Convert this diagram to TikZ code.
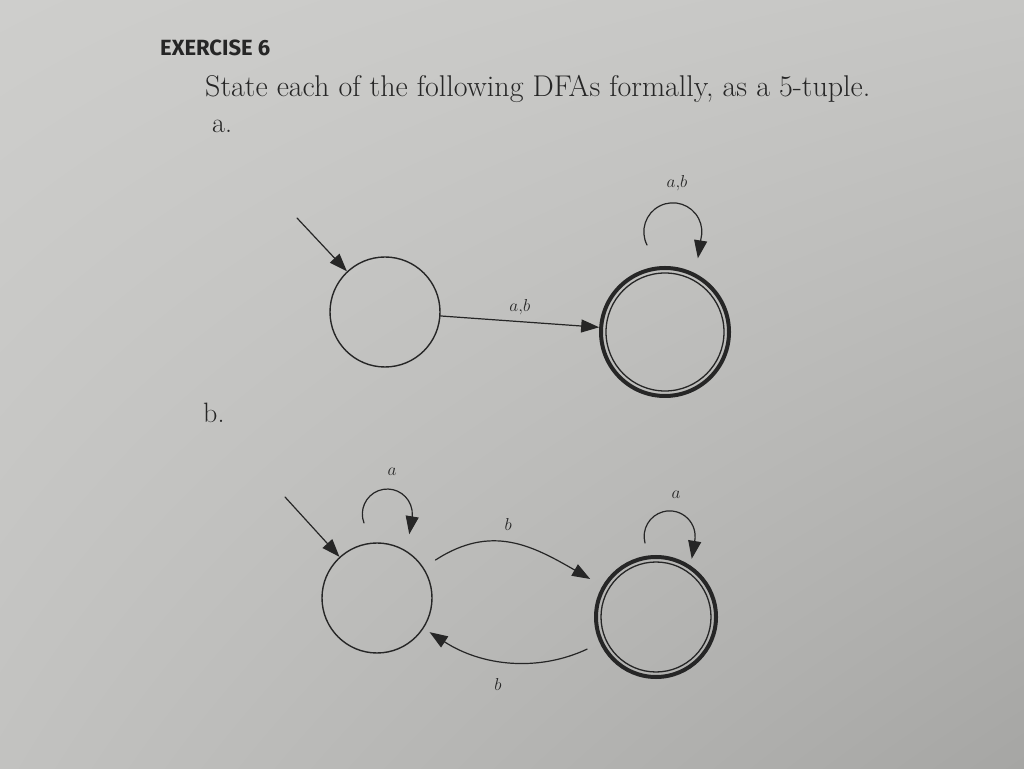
\documentclass[tikz,border=0pt]{standalone}
\usepackage{amsmath}
\usepackage{fontspec}
\newfontfamily\headfont{Fira Sans}
\usetikzlibrary{arrows.meta, shadings}
\definecolor{ink}{RGB}{38,38,38}
\definecolor{paperul}{RGB}{206,206,204}
\definecolor{paperur}{RGB}{198,198,196}
\definecolor{paperll}{RGB}{194,194,192}
\definecolor{paperlr}{RGB}{166,166,164}
\tikzset{
	state/.style={circle, draw=ink, line width=1.4pt, minimum size=110pt, inner sep=0pt},
	finalstate/.style={circle, draw=ink, line width=4pt, minimum size=128pt, inner sep=0pt},
	innerring/.style={draw=ink, line width=1.3pt},
	trans/.style={draw=ink, line width=1.2pt, -{Triangle[length=18pt, width=13pt]}},
	lbl/.style={font=\fontsize{17}{20}\selectfont, text=ink},
	txt/.style={anchor=base west, inner sep=0pt, text=ink, font=\fontsize{30}{34}\selectfont}
}
\begin{document}
\begin{tikzpicture}[x=1pt, y=1pt, line cap=round]
	\shade[upper left=paperul, upper right=paperur, lower left=paperll, lower right=paperlr] (0,0) rectangle (1024,768);
	\useasboundingbox (0,0) rectangle (1024,768);
	\node[txt, font=\headfont\bfseries\fontsize{22}{25}\selectfont] (head) at (160,712) {EXERCISE 6};
	\node[txt] (task) at (205,671) {State each of the following DFAs formally, as a 5-tuple.};
	\node[txt, font=\fontsize{28}{32}\selectfont] (parta) at (212,635) {a.};
	\node[txt, font=\fontsize{28}{32}\selectfont] (partb) at (203,345) {b.};

	\node[state] (qa0) at (385,456) {};
	\node[finalstate] (qa1) at (665,436) {};
	\draw[innerring] (qa1.center) circle (59);
	\coordinate (ina) at (297,550);
	\draw[trans] (ina) -- (qa0);
	\draw[trans] (qa0) -- node[lbl, above=3pt] (la0) {$a{,}b$} (qa1);
	\draw[trans] ([shift={(-18,87)}]qa1.center) arc[start angle=207, end angle=-15, radius=29] -- ++(-3,-19);
	\node[lbl] (la1) at (677,585) {$a{,}b$};

	\node[state] (qb0) at (377,170) {};
	\node[finalstate, minimum size=120pt] (qb1) at (656,151) {};
	\draw[innerring] (qb1.center) circle (55);
	\coordinate (inb) at (285,271);
	\draw[trans] (inb) -- (qb0);
	\draw[trans] ([shift={(-13,75)}]qb0.center) arc[start angle=201, end angle=-5, radius=25] -- ++(-3,-18);
	\node[lbl] (lb0) at (392,296) {$a$};
	\draw[trans] ([shift={(-11,74)}]qb1.center) arc[start angle=195, end angle=-10, radius=25.5] -- ++(-3,-18);
	\node[lbl] (lb1) at (676,273) {$a$};
	\draw[trans, shorten <=14pt, shorten >=14pt] (qb0) to[out=33, in=150, looseness=1.15] node[lbl, above=11pt, xshift=-4pt] (lb2) {$b$} (qb1);
	\draw[trans, shorten <=14pt, shorten >=7pt] (qb1) to[out=205, in=-33] node[lbl, below=14pt, xshift=-12pt] (lb3) {$b$} (qb0);
\end{tikzpicture}
\end{document}
